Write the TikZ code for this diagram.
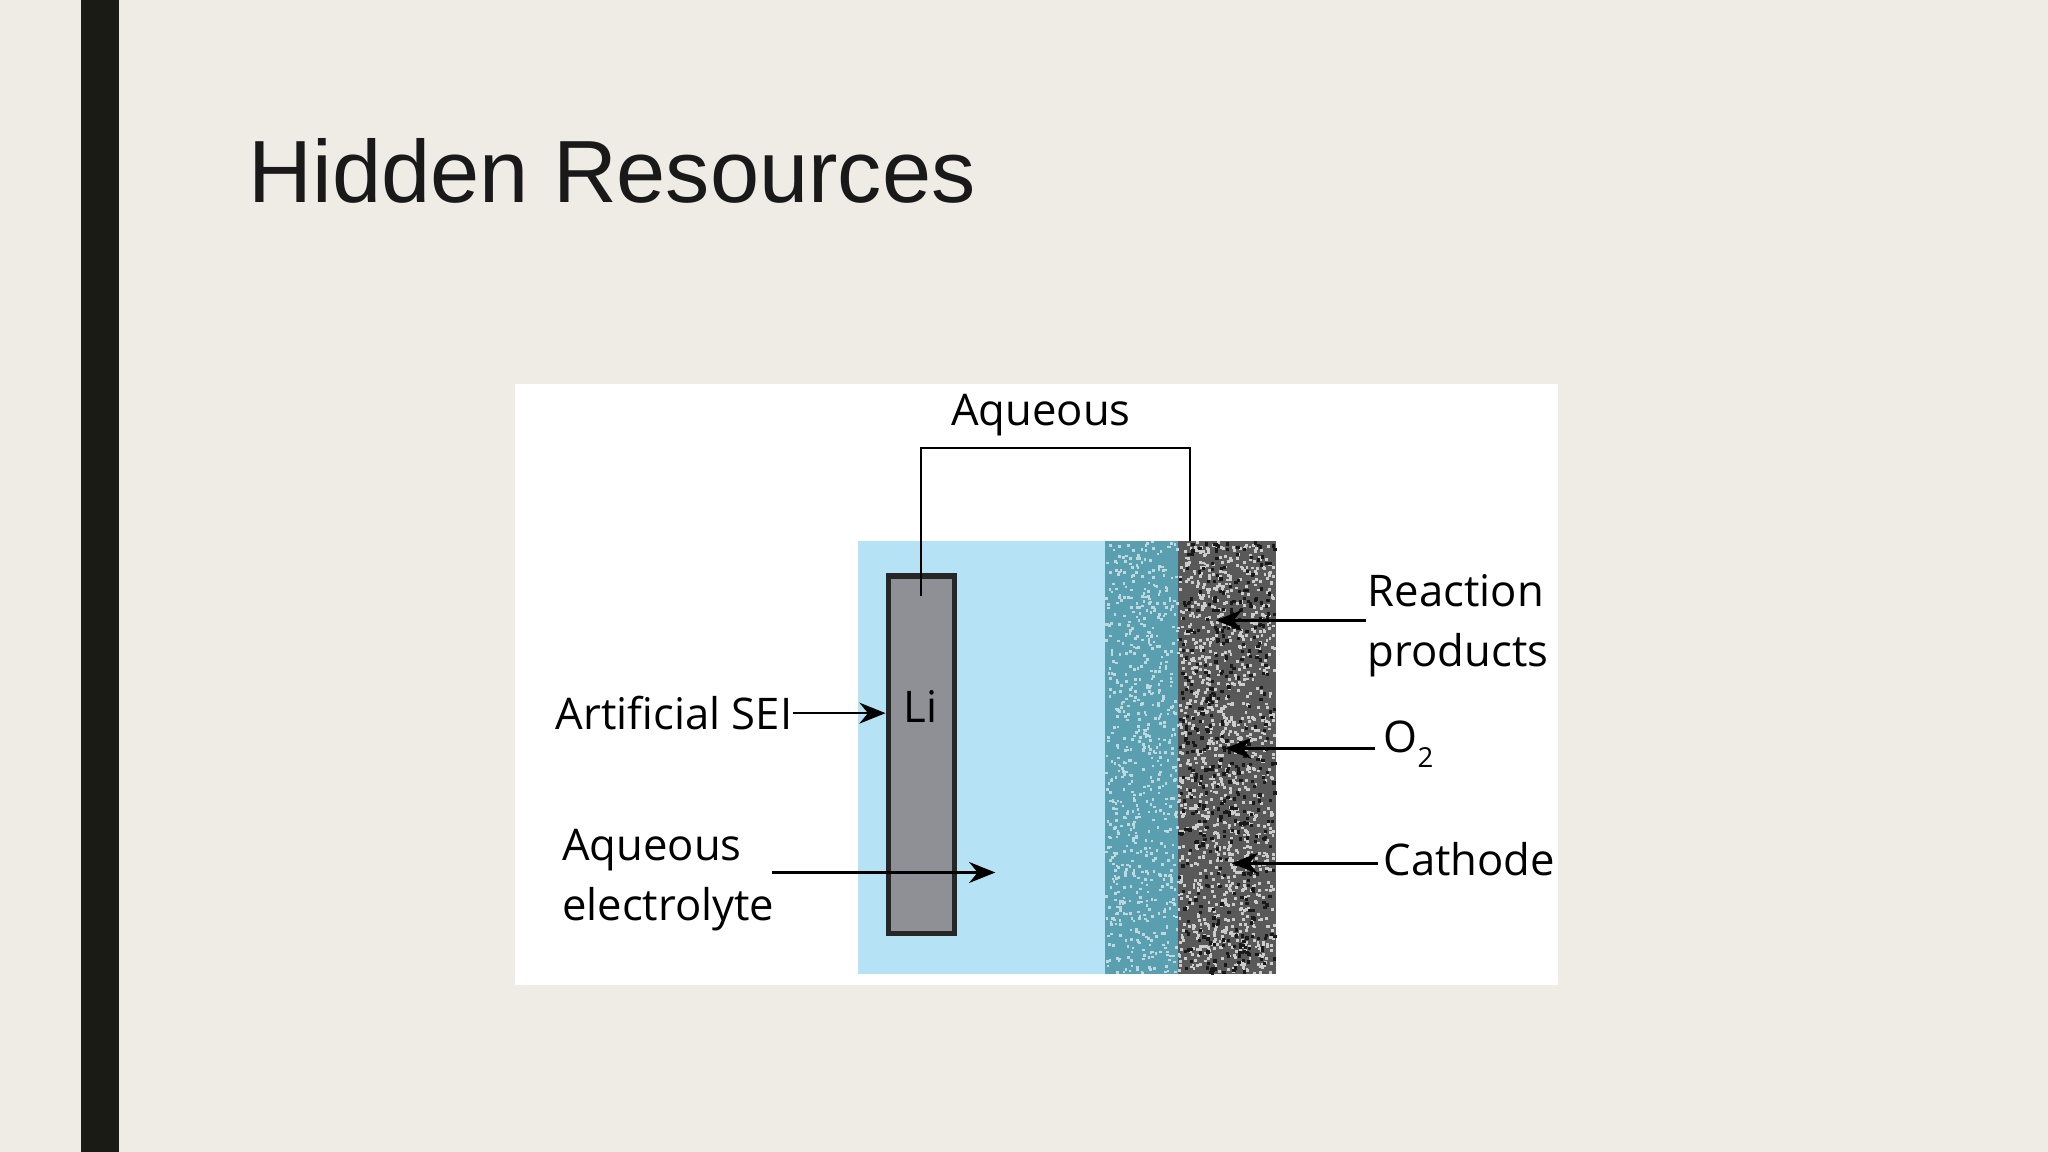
\documentclass[tikz,border=0pt]{standalone}
\usepackage{fontspec}
\setmainfont{Open Sans}
\newfontfamily\titlefont{Liberation Sans}
\usetikzlibrary{arrows.meta}
\definecolor{bg}{HTML}{EFECE6}
\definecolor{bar}{HTML}{1B1B15}
\definecolor{elec}{HTML}{B5E3F5}
\definecolor{teal}{HTML}{5A9FB0}
\definecolor{lig}{HTML}{8E9096}
\tikzset{
 lbl/.style={font=\fontsize{19}{23}\selectfont, inner sep=0pt},
 arr/.style={line width=0.4mm, -{Stealth[length=4mm,width=3.2mm]}},
 wire/.style={line width=0.4mm}
}
\begin{document}
\begin{tikzpicture}[x=0.2mm,y=-0.2mm]
\fill[bg] (0,0) rectangle (1568,882);
\useasboundingbox (0,0) rectangle (1568,882);
\fill[bar] (62,0) rectangle (91,882);
\node[anchor=base west, inner sep=0pt, font=\titlefont\fontsize{38.5}{46}\selectfont, text=black!90] (title) at (190,155) {Hidden Resources};
\fill[white] (394,294) rectangle (1193,754);
\fill[elec] (657,414) rectangle (846,746);
\fill[teal] (846,414) rectangle (902,746);
\fill[black!65] (902,414) rectangle (977,746);
\pgfmathsetseed{7}
\foreach \i in {1,...,700}{
  \pgfmathsetmacro{\xx}{846+56*rnd}\pgfmathsetmacro{\yy}{414+330*rnd}
  \fill[teal!40!white] (\xx,\yy) rectangle ++(2,2);
}
\foreach \i in {1,...,1200}{
  \pgfmathsetmacro{\xx}{902+73*rnd}\pgfmathsetmacro{\yy}{414+330*rnd}
  \fill[white!80!black] (\xx,\yy) rectangle ++(2.2,2.2);
}
\foreach \i in {1,...,500}{
  \pgfmathsetmacro{\xx}{902+73*rnd}\pgfmathsetmacro{\yy}{414+330*rnd}
  \fill[black!90] (\xx,\yy) rectangle ++(2.5,2.5);
}
\node[draw=black!85, line width=0.8mm, fill=lig, minimum width=51*0.2mm, minimum height=274*0.2mm, inner sep=0pt] (li) at (705.5,578) {};
\node[lbl] (litext) at (705,541) {Li};
\coordinate (wa) at (705,456);
\coordinate (wb) at (911,414);
\draw[wire] (wa) -- (705,343) -- (911,343) -- (wb);
\node[lbl] (aq) at (797,318) {Aqueous};
\node[lbl, anchor=east] (sei) at (607,546) {Artificial SEI};
\draw[arr] (sei.east) -- (678,546);
\node[lbl, anchor=west, align=left] (ae) at (430,674) {Aqueous\\[3pt]electrolyte};
\coordinate (aeA) at (591,668);
\coordinate (aeB) at (762,668);
\draw[arr] (aeA) -- (aeB);
\node[lbl, anchor=west, align=left] (rp) at (1047,479) {Reaction\\[3pt]products};
\coordinate (rpA) at (1046,475);
\coordinate (rpB) at (931,475);
\draw[arr] (rpA) -- (rpB);
\node[lbl, anchor=west] (o2) at (1059,570) {O\raisebox{-0.35em}{\fontsize{12}{14}\selectfont 2}};
\coordinate (o2A) at (1053,573);
\coordinate (o2B) at (938,573);
\draw[arr] (o2A) -- (o2B);
\node[lbl, anchor=west] (cat) at (1059,658) {Cathode};
\coordinate (caA) at (1055,661);
\coordinate (caB) at (943,661);
\draw[arr] (caA) -- (caB);
\end{tikzpicture}
\end{document}
